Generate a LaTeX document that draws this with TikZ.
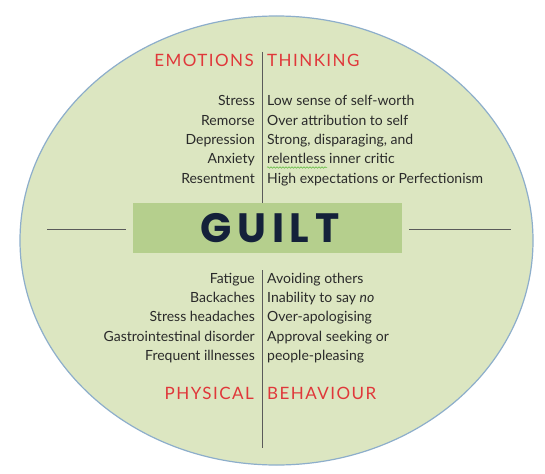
\documentclass[tikz,border=0pt]{standalone}
\usepackage{fontspec}
\setmainfont{Lato}
\newfontfamily\headfont[LetterSpace=8.5]{Lato}
\newfontfamily\guiltfont[LetterSpace=14]{Poppins Bold}
\usetikzlibrary{decorations.pathmorphing,shapes.geometric}
\definecolor{ellfill}{HTML}{DCE6C1}
\definecolor{ellline}{HTML}{8DAECB}
\definecolor{boxfill}{HTML}{B5CF8D}
\definecolor{headred}{HTML}{E0373A}
\definecolor{bodytxt}{HTML}{2A2A2A}
\definecolor{rulegray}{HTML}{5A5A5A}
\definecolor{guiltink}{HTML}{14213A}
\definecolor{squig}{HTML}{5DB83C}
\tikzset{
  head/.style={font=\headfont\fontsize{17}{19}\selectfont, text=headred, inner sep=0pt},
  bodyl/.style={font=\fontsize{14}{16}\selectfont, text=bodytxt, inner sep=0pt, anchor=base east},
  bodyr/.style={font=\fontsize{14}{16}\selectfont, text=bodytxt, inner sep=0pt, anchor=base west},
  rule/.style={draw=rulegray, line width=0.9pt},
}
\begin{document}
\begin{tikzpicture}[x=1pt,y=-1pt]
\useasboundingbox (0,0) rectangle (545,473);
\fill[white] (0,0) rectangle (545,473);
\node[draw=ellline, fill=ellfill, line width=1.2pt, ellipse, minimum width=513pt, minimum height=449pt, inner sep=0pt] (ell) at (276.5,240.5) {};
% vertical rules
\coordinate (vt1) at (262,52);
\coordinate (vt2) at (262,208);
\coordinate (vb1) at (262,270);
\coordinate (vb2) at (262,448);
\draw[rule] (vt1) -- (vt2);
\draw[rule] (vb1) -- (vb2);
% guilt box
\node[fill=boxfill, minimum width=269pt, minimum height=50pt, inner sep=0pt] (box) at (267.5,228) {};
\node[font=\guiltfont\fontsize{41}{44}\selectfont, text=guiltink, inner sep=0pt] (guilt) at (270,228) {GUILT};
\coordinate (hl1) at (47,229);
\coordinate (hl2) at (126,229);
\coordinate (hr1) at (409,229);
\coordinate (hr2) at (511,229);
\draw[rule] (hl1) -- (hl2);
\draw[rule] (hr1) -- (hr2);
% headers
\node[head, anchor=base east] (emo) at (254,67) {EMOTIONS};
\node[head, anchor=base west] (thi) at (267,67) {THINKING};
\node[head, anchor=base east] (phy) at (254,399) {PHYSICAL};
\node[head, anchor=base west] (beh) at (267,399) {BEHAVIOUR};
% top rows
\node[bodyl] (e1) at (255,106) {Stress};
\node[bodyl] (e2) at (255,126) {Remorse};
\node[bodyl] (e3) at (255,145) {Depression};
\node[bodyl] (e4) at (255,164) {Anxiety};
\node[bodyl] (e5) at (255,183) {Resentment};
\node[bodyr] (t1) at (267,106) {Low sense of self-worth};
\node[bodyr] (t2) at (267,126) {Over attribution to self};
\node[bodyr] (t3) at (267,145) {Strong, disparaging, and};
\node[bodyr] (t4) at (267,164) {relentless inner critic};
\node[bodyr] (t5) at (267,183) {High expectations or Perfectionism};
\coordinate (sq1) at (267,167.5);
\coordinate (sq2) at (327,167.5);
\draw[squig, line width=0.5pt, decorate, decoration={snake, amplitude=0.8pt, segment length=3pt}] (sq1) -- (sq2);
% bottom rows
\node[bodyl] (p1) at (255,283) {Fatigue};
\node[bodyl] (p2) at (255,302) {Backaches};
\node[bodyl] (p3) at (255,321) {Stress headaches};
\node[bodyl] (p4) at (255,341) {Gastrointestinal disorder};
\node[bodyl] (p5) at (255,360) {Frequent illnesses};
\node[bodyr] (b1) at (267,283) {Avoiding others};
\node[bodyr] (b2) at (267,302) {Inability to say \textit{no}};
\node[bodyr] (b3) at (267,321) {Over-apologising};
\node[bodyr] (b4) at (267,341) {Approval seeking or};
\node[bodyr] (b5) at (267,360) {people-pleasing};
\end{tikzpicture}
\end{document}
